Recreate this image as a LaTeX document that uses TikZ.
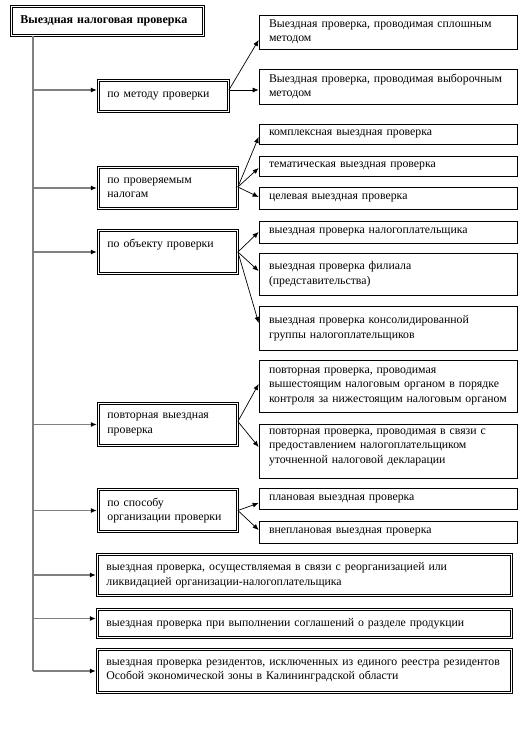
\documentclass[tikz,border=0pt]{standalone}
\usepackage{fontspec}
\setmainfont{Liberation Serif}
\usetikzlibrary{arrows.meta}
\begin{document}
\begin{tikzpicture}[x=1pt,y=-1pt,
  every node/.style={font=\fontsize{11.8}{14.5}\selectfont},
  rbox/.style={draw, line width=0.7pt, inner xsep=10pt, inner ysep=0pt,
    minimum width=258pt, text width=238pt, align=left},
  lbox/.style={draw, double, double distance=1.6pt, line width=0.6pt,
    inner xsep=9pt, inner ysep=0pt, align=left},
  trunk/.style={draw=black!50, line width=1.3pt},
  feed/.style={draw=black!50, line width=1.3pt, -{Latex[length=6pt,width=5pt,color=black]}, shorten >=1.2pt},
  branch/.style={draw=black, line width=0.7pt, -{Latex[length=6pt,width=5pt]}}
]
\useasboundingbox (0,0) rectangle (526,748);

% top
\node[lbox, minimum width=192.2pt, text width=174.2pt, minimum height=29.2pt,
  font=\fontsize{12}{14.5}\selectfont\bfseries] (T) at (107.5,21) {Выездная налоговая проверка};

% left boxes
\node[lbox, minimum width=130.2pt, text width=112.2pt, minimum height=31.2pt] (L1) at (163.5,96) {по методу проверки};
\node[lbox, minimum width=139.2pt, text width=121.2pt, minimum height=41.2pt] (L2) at (168,188) {по проверяемым\\налогам};
\node[lbox, minimum width=139.2pt, text width=121.2pt, minimum height=43.2pt] (L3) at (168,252) {по объекту проверки\\[3pt]\mbox{}};
\node[lbox, minimum width=139.2pt, text width=121.2pt, minimum height=42.2pt] (L4) at (168,424.5) {повторная выездная\\проверка};
\node[lbox, minimum width=139.2pt, text width=121.2pt, minimum height=42.2pt] (L5) at (168,510.5) {по способу\\организации проверки};

% bottom wide boxes
\node[lbox, minimum width=414.2pt, text width=396.2pt, minimum height=41.2pt] (A) at (304.5,575) {выездная проверка, осуществляемая в связи с реорганизацией или\\ликвидацией организации-налогоплательщика};
\node[lbox, minimum width=414.2pt, text width=396.2pt, minimum height=28.2pt] (B) at (304.5,623.5) {выездная проверка при выполнении соглашений о разделе продукции};
\node[lbox, minimum width=414.2pt, text width=396.2pt, minimum height=43.2pt] (C) at (304.5,671) {\mbox{выездная проверка резидентов, исключенных из единого реестра резидентов}\\Особой экономической зоны в Калининградской области};

% right boxes
\node[rbox, minimum height=34pt] (R1) at (388,32) {Выездная проверка, проводимая сплошным\\методом};
\node[rbox, minimum height=35pt] (R2) at (388,86.5) {Выездная проверка, проводимая выборочным\\методом};
\node[rbox, minimum height=20pt] (R3) at (388,134) {комплексная выездная проверка};
\node[rbox, minimum height=20pt] (R4) at (388,166) {тематическая выездная проверка};
\node[rbox, minimum height=22pt] (R5) at (388,198) {целевая выездная проверка};
\node[rbox, minimum height=22pt] (R6) at (388,232) {выездная проверка налогоплательщика};
\node[rbox, minimum height=42pt] (R7) at (388,274) {выездная проверка филиала\\(представительства)};
\node[rbox, minimum height=44pt] (R8) at (388,328) {выездная проверка консолидированной\\группы налогоплательщиков};
\node[rbox, minimum height=52pt] (R9) at (388,386) {повторная проверка, проводимая\\\mbox{вышестоящим налоговым органом в порядке}\\\mbox{контроля за нижестоящим налоговым органом}};
\node[rbox, minimum height=54pt] (R10) at (388,451) {повторная проверка, проводимая в связи с\\предоставлением налогоплательщиком\\уточненной налоговой декларации\\[-4pt]\mbox{}};
\node[rbox, minimum height=21pt] (R11) at (388,498.5) {плановая выездная проверка};
\node[rbox, minimum height=22pt] (R12) at (388,532) {внеплановая выездная проверка};

% helper coordinates
\coordinate (tx) at (33,0);
\coordinate (L1in) at ([yshift=6pt]L1.west);
\coordinate (L1out) at ([yshift=6pt]L1.east);
\coordinate (Bin) at ([yshift=5pt]B.west);

% trunk
\draw[trunk] (T.south -| tx) -- (tx |- C.west);

% feeders
\draw[feed] (tx |- L1in) -- (L1in);
\draw[feed] (tx |- L2.west) -- (L2.west);
\draw[feed] (tx |- L3.west) -- (L3.west);
\draw[feed] (tx |- L4.west) -- (L4.west);
\draw[feed] (tx |- L5.west) -- (L5.west);
\draw[feed] (tx |- A.west) -- (A.west);
\draw[feed] (tx |- Bin) -- (Bin);
\draw[feed] (tx |- C.west) -- (C.west);

% branches
\draw[branch] (L1out) -- ([yshift=-8pt]R1.west);
\draw[branch] (L1out) -- ([yshift=-3.5pt]R2.west);
\draw[branch] ([yshift=1pt]L2.east) -- ([yshift=-3pt]R3.west);
\draw[branch] ([yshift=1pt]L2.east) -- ([yshift=-2pt]R4.west);
\draw[branch] ([yshift=1pt]L2.east) -- ([yshift=1pt]R5.west);
\draw[branch] (L3.east) -- (R6.west);
\draw[branch] (L3.east) -- ([yshift=3pt]R7.west);
\draw[branch] (L3.east) -- ([yshift=5pt]R8.west);
\draw[branch] ([yshift=3pt]L4.east) -- ([yshift=2pt]R9.west);
\draw[branch] ([yshift=3pt]L4.east) -- ([yshift=4pt]R10.west);
\draw[branch] (L5.east) -- ([yshift=-4.5pt]R11.west);
\draw[branch] (L5.east) -- ([yshift=2pt]R12.west);
\end{tikzpicture}
\end{document}
